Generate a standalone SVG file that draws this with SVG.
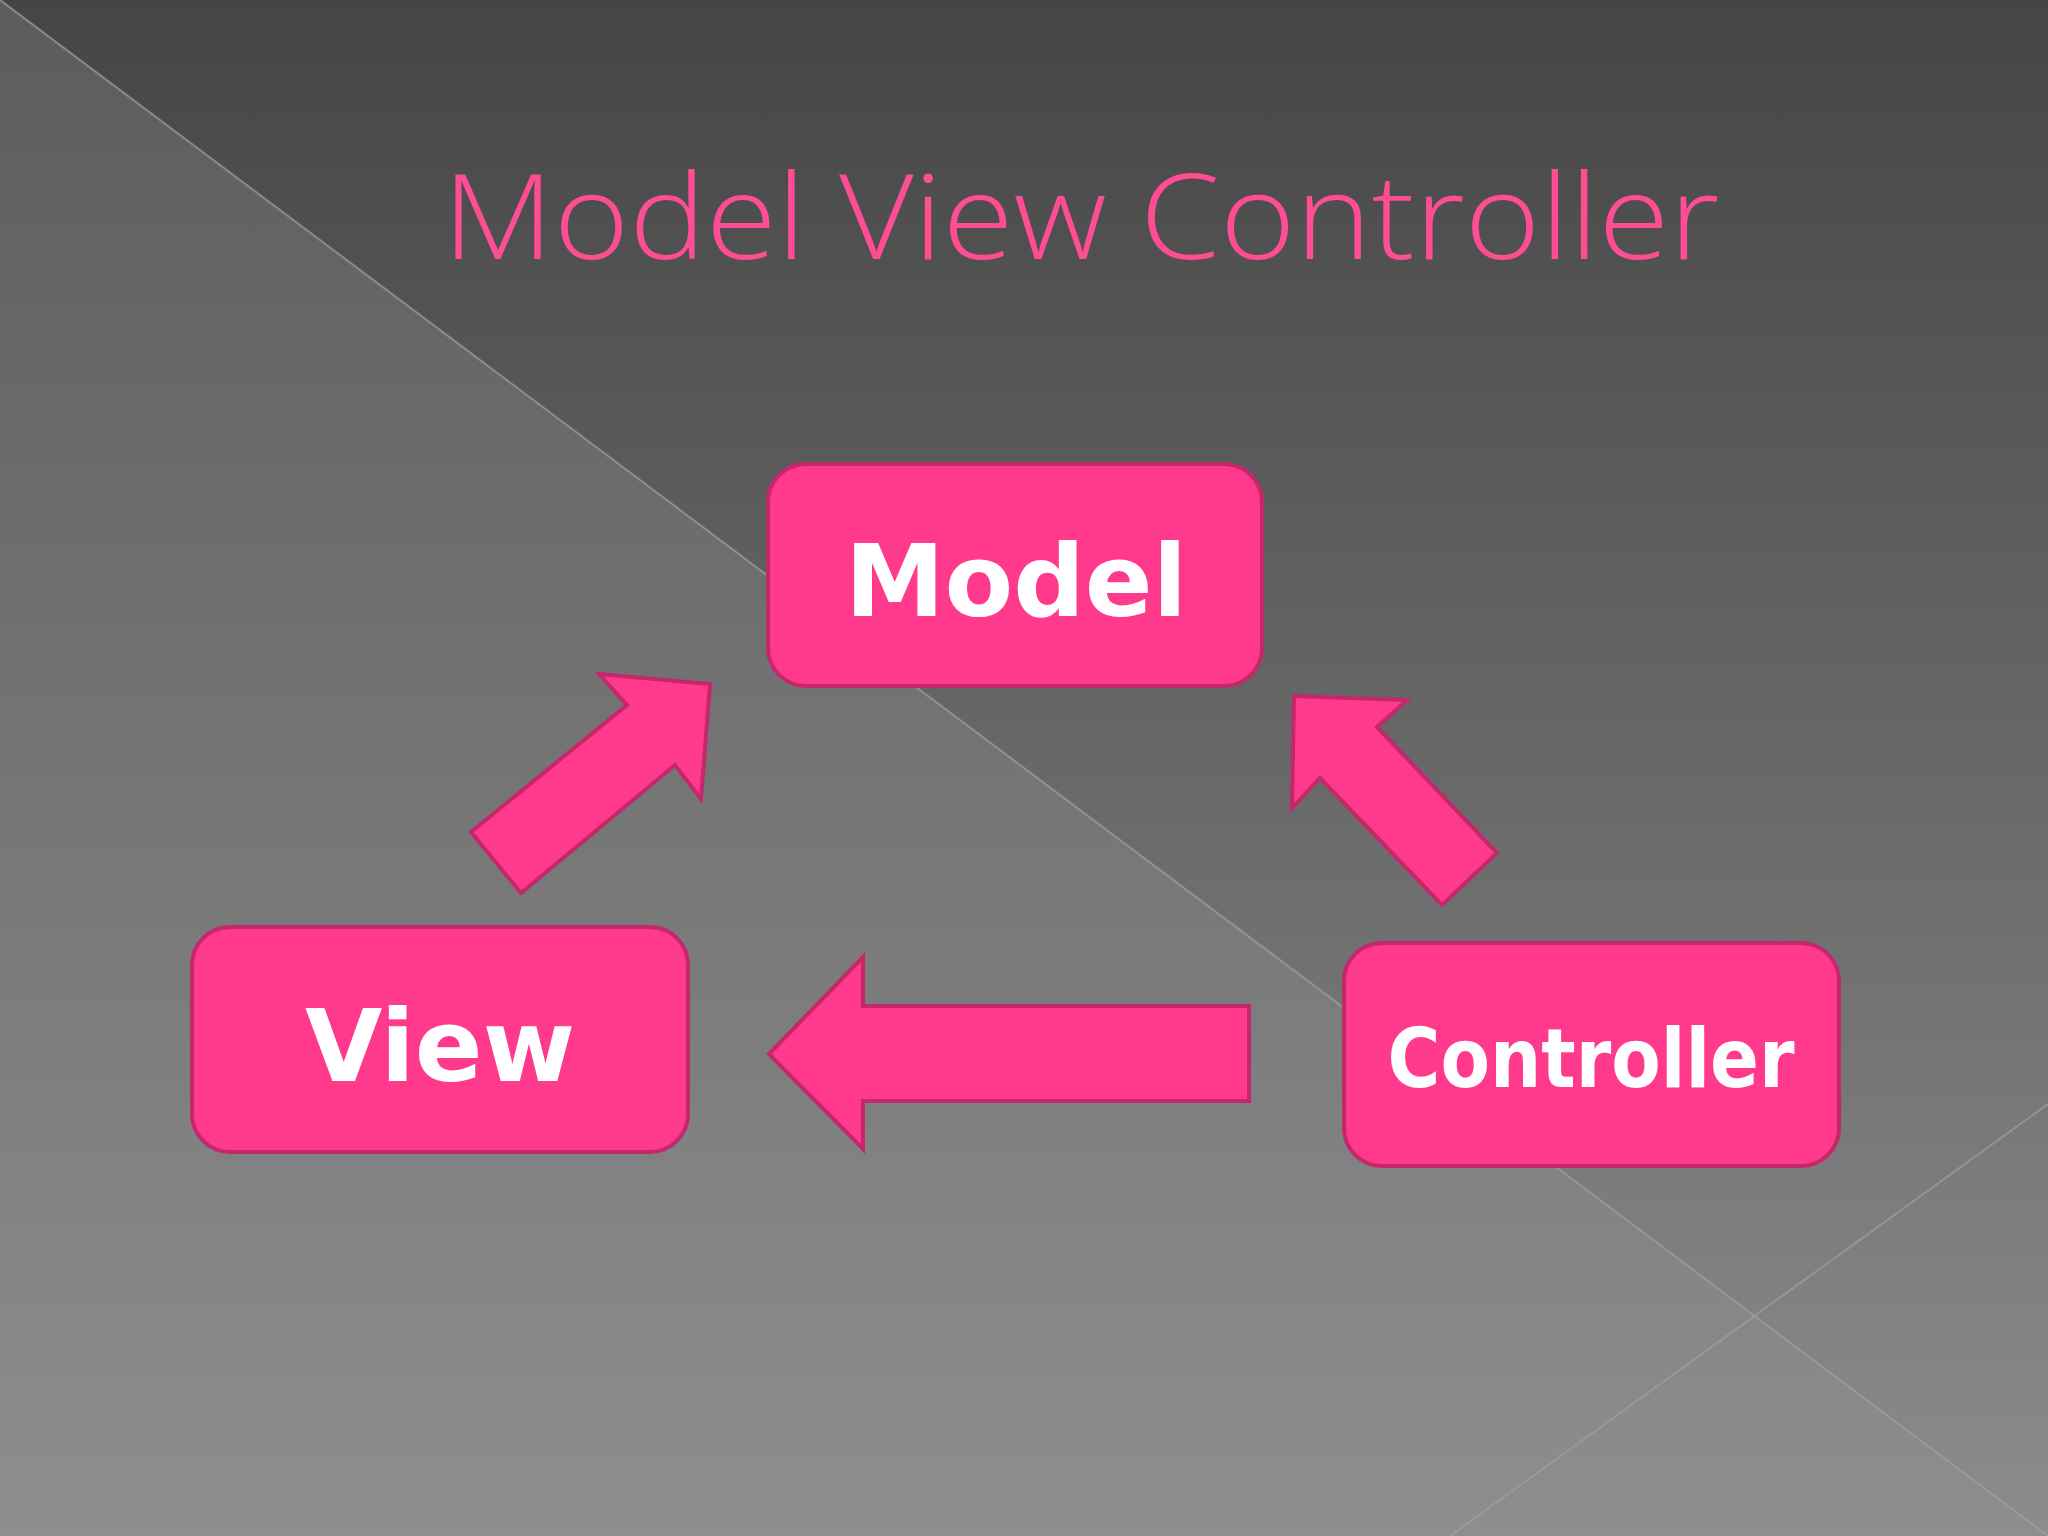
<svg xmlns="http://www.w3.org/2000/svg" width="2048" height="1536" viewBox="0 0 2048 1536">
<defs>
<linearGradient id="bg" x1="0" y1="0" x2="0" y2="1">
<stop offset="0" stop-color="#454545"/><stop offset="1" stop-color="#8c8b8d"/>
</linearGradient>
<linearGradient id="bg2" x1="0" y1="0" x2="0" y2="1">
<stop offset="0" stop-color="#5c5c5c"/><stop offset="1" stop-color="#8e8d8f"/>
</linearGradient>
<style>
.box{fill:#ff3a8c;stroke:#c4286a;stroke-width:4}
.arr{fill:#ff3a8c;stroke:#c4286a;stroke-width:4;stroke-linejoin:miter}
.lbl{fill:#fff;font-family:"DejaVu Sans",sans-serif;font-weight:bold;text-anchor:middle}
.ln{stroke:#a0a0a0;stroke-width:2;fill:none;opacity:0.7}
</style>
</defs>
<rect width="2048" height="1536" fill="url(#bg)"/>
<polygon points="0,0 2048,1536 0,1536" fill="url(#bg2)"/>
<line class="ln" x1="0" y1="0" x2="2048" y2="1536"/>
<line class="ln" x1="1450" y1="1536" x2="2048" y2="1104"/>
<text x="1081" y="259" font-family="'Open Sans',sans-serif" font-weight="300" font-size="118" fill="#ff4d94" text-anchor="middle" textLength="1277" lengthAdjust="spacingAndGlyphs">Model View Controller</text>
<g id="connectors">
<polygon class="arr" points="769,1054 863,957 863,1006 1249,1006 1249,1101 863,1101 863,1149"/>
<polygon class="arr" points="471,832 627,705 599,674 710,684 701,799 675,765 521,893"/>
<polygon class="arr" points="1442,905 1320,778 1292,808 1294,696 1407,700 1377,727 1497,853"/>
</g>
<g id="model"><rect class="box" x="768" y="464" width="494" height="222" rx="38"/><text class="lbl" x="1016" y="616" font-size="100">Model</text></g>
<g id="view"><rect class="box" x="192" y="927" width="496" height="225" rx="38"/><text class="lbl" x="440" y="1081" font-size="100">View</text></g>
<g id="controller"><rect class="box" x="1344" y="943" width="495" height="223" rx="38"/><text class="lbl" x="1591" y="1087" font-size="82" textLength="407" lengthAdjust="spacingAndGlyphs">Controller</text></g>
</svg>
